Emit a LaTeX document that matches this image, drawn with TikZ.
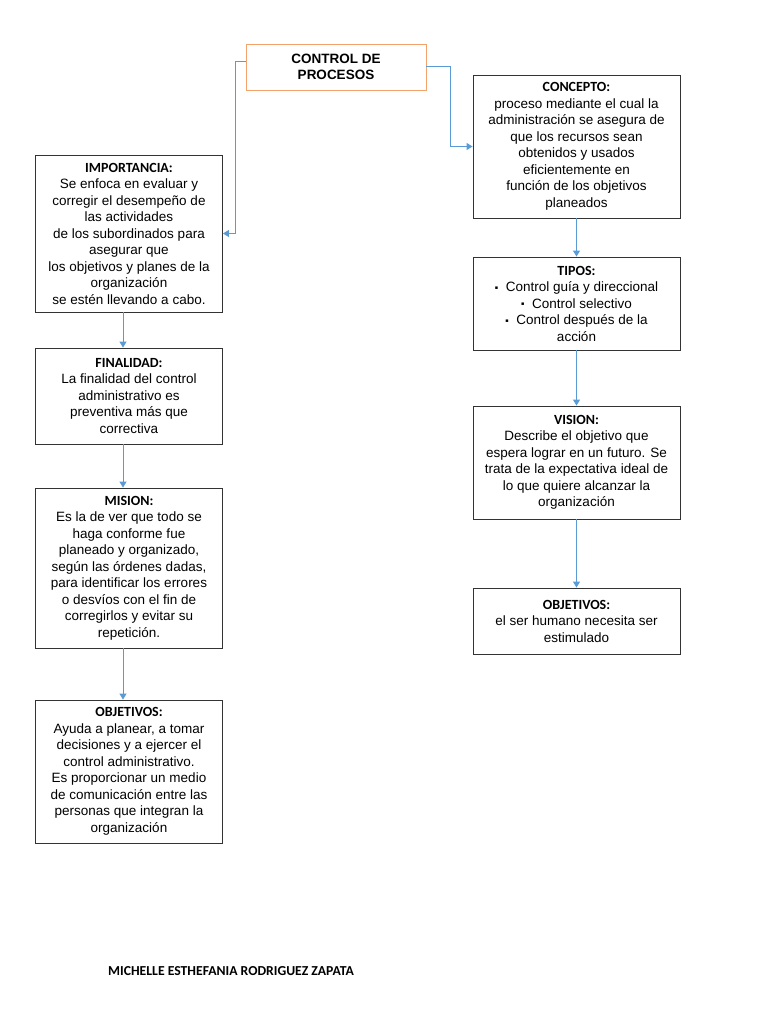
\documentclass[tikz,border=0pt]{standalone}
\usepackage{fontspec}
\setmainfont{Liberation Sans}
\newfontfamily\headfont{Carlito}
\newfontfamily\symfont{DejaVu Sans}
\usetikzlibrary{arrows.meta}
\definecolor{linkblue}{HTML}{5B9BD5}
\definecolor{boxorange}{HTML}{F4A26B}
\newcommand{\hd}[1]{{\headfont\bfseries\fontsize{14}{16.5}\selectfont #1}}
\newcommand{\bul}{\raisebox{2.5pt}{\symfont\fontsize{5}{5}\selectfont ▪}}
\begin{document}
\begin{tikzpicture}[x=1pt,y=-1pt,
	cbox/.style={draw=black!80,line width=0.9pt,align=center,inner sep=0pt,minimum width=187pt,font=\fontsize{13.5}{16.5}\selectfont},
	link/.style={linkblue,line width=1pt,-{Triangle[length=6pt,width=7pt]}}]
	\fill[white] (0,0) rectangle (768,1024);
	\useasboundingbox (0,0) rectangle (768,1024);
	% title
	\node[cbox,draw=boxorange,minimum width=180pt,minimum height=46pt,font=\fontsize{13.5}{16.5}\selectfont\bfseries] (ctrl) at (336,67) {CONTROL DE\\PROCESOS};
	% left column
	\node[cbox,minimum height=157pt] (imp) at (129,233.5) {\hd{IMPORTANCIA:}\\Se enfoca en evaluar y\\corregir el desempeño de\\las actividades\\de los subordinados para\\asegurar que\\los objetivos y planes de la\\organización\\se estén llevando a cabo.};
	\node[cbox,minimum height=96pt] (fin) at (129,396) {\hd{FINALIDAD:}\\La finalidad del control\\administrativo es\\preventiva más que\\correctiva};
	\node[cbox,minimum height=160pt] (mis) at (129,568) {\hd{MISION:}\\Es la de ver que todo se\\haga conforme fue\\planeado y organizado,\\según las órdenes dadas,\\para identificar los errores\\o desvíos con el fin de\\corregirlos y evitar su\\repetición.};
	\node[cbox,minimum height=143pt] (objl) at (129,771.5) {\hd{OBJETIVOS:}\\Ayuda a planear, a tomar\\decisiones y a ejercer el\\control administrativo.\\Es proporcionar un medio\\de comunicación entre las\\personas que integran la\\organización};
	% right column
	\node[cbox,minimum width=207pt,minimum height=143pt] (conc) at (576.5,146.5) {\hd{CONCEPTO:}\\proceso mediante el cual la\\administración se asegura de\\que los recursos sean\\obtenidos y usados\\eficientemente en\\función de los objetivos\\planeados};
	\node[cbox,minimum width=207pt,minimum height=93pt] (tip) at (576.5,303.5) {\hd{TIPOS:}\\\bul\ \ Control guía y direccional\\\bul\ \ Control selectivo\\\bul\ \ Control después de la\\acción};
	\node[cbox,minimum width=207pt,minimum height=113pt] (vis) at (576.5,462.5) {\hd{VISION:}\\Describe el objetivo que\\espera lograr en un futuro. Se\\trata de la expectativa ideal de\\lo que quiere alcanzar la\\organización};
	\node[cbox,minimum width=207pt,minimum height=66pt] (objr) at (576.5,621) {\hd{OBJETIVOS:}\\el ser humano necesita ser\\estimulado};
	% author
	\node[anchor=west,inner sep=0pt,font=\headfont\bfseries\fontsize{13.7}{15}\selectfont] (autor) at (108,971) {MICHELLE ESTHEFANIA RODRIGUEZ ZAPATA};
	% connectors
	\draw[link] ([yshift=5pt]ctrl.west) -- ++(-10,0) |- (imp.east);
	\draw[link] (ctrl.east) -- ++(24,0) |- (conc.west);
	\draw[link] ([xshift=-6pt]imp.south) -- ([xshift=-6pt]fin.north);
	\draw[link] ([xshift=-6pt]fin.south) -- ([xshift=-6pt]mis.north);
	\draw[link] ([xshift=-6pt]mis.south) -- ([xshift=-6pt]objl.north);
	\draw[link] (conc.south) -- (tip.north);
	\draw[link] (tip.south) -- (vis.north);
	\draw[link] (vis.south) -- (objr.north);
\end{tikzpicture}
\end{document}
